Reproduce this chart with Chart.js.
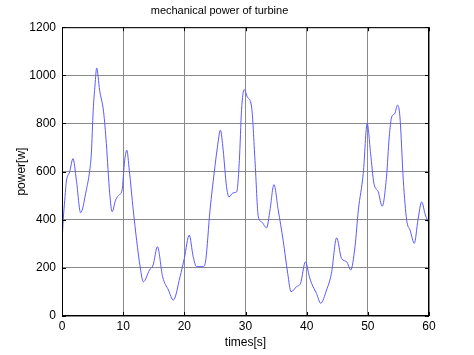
<!DOCTYPE html>
<html>
<head>
<meta charset="utf-8">
<script src="https://cdn.jsdelivr.net/npm/chart.js@4/dist/chart.umd.min.js"></script>
<style>
  html, body { margin: 0; padding: 0; background: #fff; }
  #wrap { width: 474px; height: 355px; }
</style>
</head>
<body>
<div id="wrap"><canvas id="pChart" width="474" height="355"></canvas></div>
<script>
// time axis [s] and turbine power [W]
const times = [0, 0.2, 0.45, 0.7, 1.25, 1.8, 2.35, 3.05, 3.97, 4.5,
  4.8, 5.1, 5.4, 5.67, 6.15, 6.8, 7.25, 7.8, 8.2,
  8.75, 9.4, 9.8, 10.25, 10.6, 11.0, 11.65, 12.2, 12.8, 13.3,
  14.3, 14.9, 15.6, 16.45, 17.4, 18.2, 19.3, 20.0, 20.8, 21.45,
  22.0, 23.1, 23.5, 24.2, 24.9, 25.4, 25.9, 26.35, 26.9, 27.3,
  28.0, 28.55, 29.0, 29.35, 29.8, 30.3, 31.0, 31.55, 32.1, 32.65,
  33.45, 34.0, 34.65, 35.35, 36.15, 36.9, 37.45, 38.35, 39.0, 39.8,
  40.45, 40.8, 41.6, 42.3, 43.25, 44.05, 44.9, 45.7, 46.55, 47.2,
  47.9, 48.45, 49.25, 49.9, 50.45, 51.0, 51.7, 52.35, 53.05, 53.5,
  53.9, 54.4, 54.85, 55.25, 55.8, 56.35, 56.9, 57.6, 58.2, 58.8,
  59.4, 60];
const power = [300, 400, 481, 557, 599, 654, 564, 429, 523, 599,
  676, 855, 960, 1030, 938, 848, 716, 509, 433,
  481, 505, 520, 647, 689, 606, 440, 315, 200, 142,
  191, 212, 288, 163, 108, 66, 163, 240, 336, 246,
  205, 205, 232, 440, 599, 700, 772, 689, 537, 495,
  512, 516, 647, 855, 941, 910, 868, 647, 412, 391,
  366, 440, 546, 440, 315, 177, 101, 122, 136, 225,
  163, 136, 94, 53, 108, 177, 325, 239, 225, 191,
  288, 440, 592, 800, 675, 551, 516, 456, 578, 744,
  827, 841, 876, 827, 564, 398, 357, 302, 400, 474,
  420, 385];
const xTicks = [0, 10, 20, 30, 40, 50, 60];
const yTicks = [0, 200, 400, 600, 800, 1000, 1200];

const FONT = 'Liberation Sans, Arial, sans-serif';

// matlab style box with small inward ticks
const boxPlugin = {
  id: 'box',
  afterDraw(chart) {
    const ctx = chart.ctx, a = chart.chartArea;
    const sx = chart.scales.x, sy = chart.scales.y;
    ctx.save();
    ctx.strokeStyle = '#000';
    ctx.lineWidth = 1;
    ctx.strokeRect(a.left + 0.5, a.top + 0.5, a.right - a.left - 1, a.bottom - a.top - 1);
    ctx.beginPath();
    xTicks.forEach(v => {
      const px = Math.round(sx.getPixelForValue(v)) + 0.5;
      ctx.moveTo(px, a.bottom); ctx.lineTo(px, a.bottom - 4);
      ctx.moveTo(px, a.top); ctx.lineTo(px, a.top + 4);
    });
    yTicks.forEach(v => {
      const py = Math.round(sy.getPixelForValue(v)) + 0.5;
      ctx.moveTo(a.left, py); ctx.lineTo(a.left + 4, py);
      ctx.moveTo(a.right, py); ctx.lineTo(a.right - 4, py);
    });
    ctx.stroke();
    ctx.restore();
  }
};

new Chart(document.getElementById('pChart').getContext('2d'), {
  type: 'line',
  data: {
    datasets: [{
      data: times.map((t, i) => ({ x: t, y: power[i] })),
      borderColor: 'rgb(90,90,255)',
      borderWidth: 1,
      pointRadius: 0,
      cubicInterpolationMode: 'monotone',
      fill: false
    }]
  },
  options: {
    responsive: false,
    animation: false,
    layout: { padding: { left: 10, right: 45, top: 1, bottom: 3 } },
    plugins: {
      legend: { display: false },
      tooltip: { enabled: false },
      title: {
        display: true,
        text: 'mechanical power of turbine',
        color: '#000',
        font: { family: FONT, size: 11, weight: 'normal' },
        padding: { top: 3, bottom: 10 }
      }
    },
    scales: {
      x: {
        type: 'linear',
        min: 0, max: 60,
        afterBuildTicks: s => { s.ticks = xTicks.map(v => ({ value: v })); },
        afterFit: s => { s.height = 36; },
        grid: { color: '#8a8a8a', lineWidth: 1, drawTicks: false },
        border: { display: false },
        ticks: { color: '#000', padding: 3, font: { family: FONT, size: 12 }, callback: v => String(v) },
        title: {
          display: true, text: 'times[s]', color: '#000',
          font: { family: FONT, size: 12 }, padding: { top: 0, bottom: 2 }
        }
      },
      y: {
        type: 'linear',
        min: 0, max: 1200,
        afterBuildTicks: s => { s.ticks = yTicks.map(v => ({ value: v })); },
        afterFit: s => { s.width = 52; },
        grid: { color: '#8a8a8a', lineWidth: 1, drawTicks: false },
        border: { display: false },
        ticks: { color: '#000', padding: 6, font: { family: FONT, size: 12 }, callback: v => String(v) },
        title: {
          display: true, text: 'power[w]', color: '#000',
          font: { family: FONT, size: 12 }, padding: { top: 4, bottom: 0 }
        }
      }
    }
  },
  plugins: [boxPlugin]
});
</script>
</body>
</html>
